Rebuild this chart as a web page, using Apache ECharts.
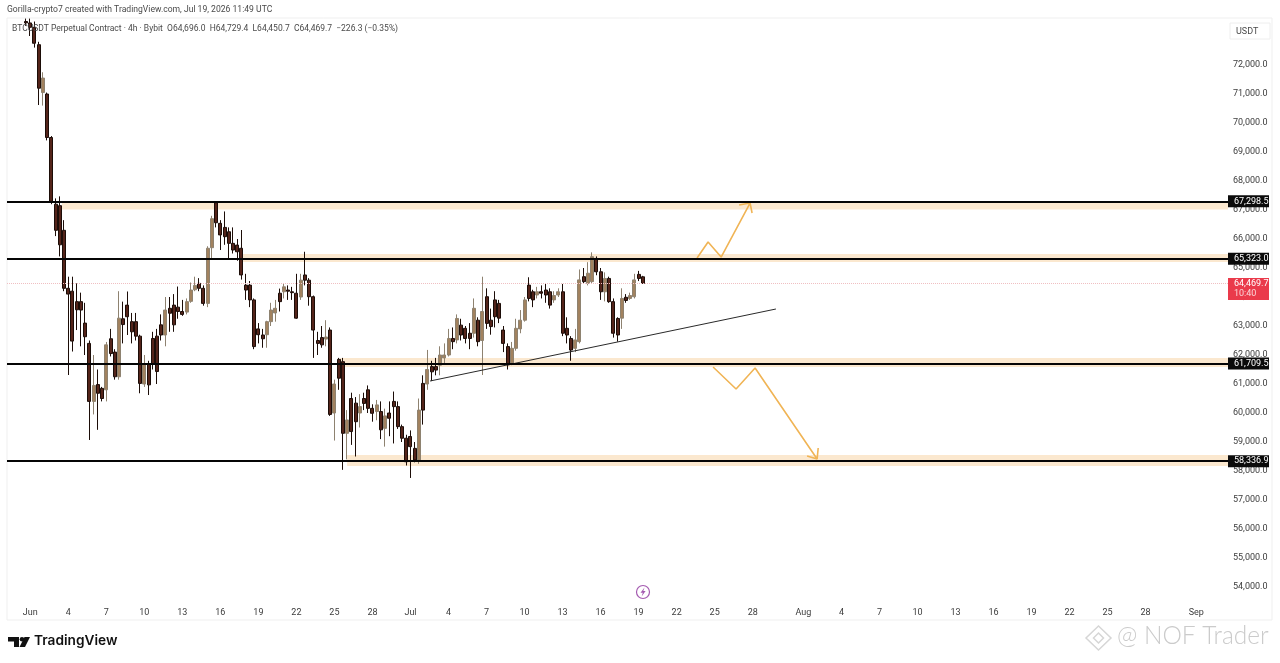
<!DOCTYPE html>
<html>
<head>
<meta charset="utf-8">
<style>html,body{margin:0;padding:0;background:#fff}#chart{width:1280px;height:663px}</style>
<script src="https://cdn.jsdelivr.net/npm/echarts@6/dist/echarts.min.js"></script>
</head>
<body>
<div id="chart"></div>
<script>
// candles, one per 8h slot
const firstCandleSlot = 4;
const opens = [73500,73450,73300,72700,71050,71000,69500,67200,67150,66300,64300,64200,63840,63840,63100,62400,60400,60980,60850,60800,62560,62100,61250,63250,63720,63150,63150,62650,61000,61700,62570,62650,63040,62690,63610,63720,63650,63500,63480,63850,64250,64470,64300,63780,65700,67250,66540,66400,66250,65850,65790,65680,64410,64410,63900,62900,62690,62700,63150,63450,64130,64180,64240,64180,64130,64000,64760,64580,64010,62500,62600,62550,62860,60000,61850,61770,59300,60500,60340,60000,60500,60800,60160,60050,60050,59470,60000,60400,60220,59530,59130,59190,58780,58380,61020,61000,61600,61600,61650,61900,62000,62570,62520,63030,62920,62750,62750,63200,62500,64010,63200,63900,63780,62860,62290,61720,62230,62900,63200,64410,64180,64070,64180,64240,64180,63900,64070,64180,62920,62570,62230,62460,64700,64470,64530,65330,64870,64180,64640,63840,63260,63270,63990,63950,64010,64780,64696];
const closes = [73450,73300,72750,71200,71550,69500,67300,66300,65800,64300,64100,62480,63560,63550,62630,60400,60950,60680,60500,62350,62050,61250,63270,63050,63320,62800,62650,61020,61680,60970,61700,61430,62690,63550,63440,63040,63500,63400,63840,64240,64400,64300,63780,65680,66700,66560,66140,66080,65850,65620,65560,64760,64240,63900,62290,62700,62560,63150,63550,63610,63840,64350,64200,64150,63270,64580,64580,64010,62860,62400,62350,62620,59950,61000,61200,59300,59760,59360,59700,60220,60330,60160,59990,60280,59420,59900,59820,60220,59530,59130,58320,58840,58380,60100,60100,61500,61420,61480,62000,62000,62570,62460,63260,62690,62570,62570,63610,62460,63500,63090,62980,63320,63270,62400,61660,62230,62920,63200,63900,63950,63900,64180,64130,64070,63720,64050,64180,62750,62690,62170,62520,64590,64530,64820,65390,64870,64180,64640,63840,62750,62690,63950,63880,64050,64590,64640,64470];
const lows = [73350,73000,72600,70620,70600,69400,67200,66100,65400,64200,61310,62120,62860,62300,62000,59070,59950,59420,60400,60400,61950,61150,61150,62400,62690,62400,62500,60680,60900,60620,61500,61000,62500,62300,62800,62800,63250,63350,63400,63800,64200,64200,63700,63650,65300,66400,65620,65800,65300,65500,65250,64600,63900,63650,62200,62400,62250,62250,63000,63150,63500,63950,63900,63900,63250,63900,64400,63700,61900,62000,62250,62300,59900,59050,60800,58040,58400,58900,58500,59500,60100,60000,59700,59750,59100,58840,59200,58950,59450,59000,58190,57760,58300,58250,59600,60800,61100,61300,61300,61700,61950,62200,62400,62500,62400,62200,62600,62300,61310,62900,62700,62950,63100,62100,61500,61650,62150,62750,63150,63850,63650,63950,63950,63800,63600,63800,64000,62650,62400,61800,62100,62400,64450,64400,64450,64750,63900,63850,63800,62600,62460,62900,63800,63900,63950,64550,64450];
const highs = [73600,73600,73500,72800,71750,71050,69550,67400,67470,66650,64700,64700,64470,64150,63800,62500,62000,61500,60900,62450,62900,62200,64200,63840,64190,63450,63450,62700,62000,61800,62800,62900,63400,64000,64000,64100,64360,63900,63950,64500,64700,64650,64400,65750,66800,67300,66650,66950,66400,66400,66000,66310,64800,64550,63950,63100,62900,63180,63800,63900,64290,64470,64400,64350,64800,64800,65560,64650,64050,62800,63000,63200,62950,61150,61900,61900,60100,60700,60550,60650,60700,60950,60300,60450,60400,60150,60400,60740,60400,59600,59250,59400,59000,60500,61300,62175,61800,61900,62300,62400,62900,62950,63400,63250,63000,63100,63950,63300,64700,64300,63600,64200,63900,63000,62400,62450,63250,63550,64000,64680,64250,64350,64400,64450,64300,64200,64300,64450,63300,62650,62900,64950,65000,65200,65540,65400,65000,64850,64700,63950,63300,64300,64100,64150,64800,64900,64729];

// time axis
const slotHours = 8;
const slotCount = 289;
const firstSlotUTC = Date.UTC(2026, 4, 30, 8);
const tickDates = ['06-01','06-04','06-07','06-10','06-13','06-16','06-19','06-22','06-25','06-28','07-01','07-04','07-07','07-10','07-13','07-16','07-19','07-22','07-25','07-28','08-01','08-04','08-07','08-10','08-13','08-16','08-19','08-22','08-25','08-28','09-01'];
const tickLabels = ['Jun','4','7','10','13','16','19','22','25','28','Jul','4','7','10','13','16','19','22','25','28','Aug','4','7','10','13','16','19','22','25','28','Sep'];

// price levels and zones
const levelPrices = [67298.5, 65323.0, 61709.5, 58336.9];
const levelTags = ['67,298.5', '65,323.0', '61,709.5', '58,336.9'];
const zoneStarts = ['2026-06-03T12:00:00Z', '2026-06-17T19:00:00Z', '2026-06-25T11:00:00Z', '2026-06-26T00:00:00Z'];
const zoneTops = [67300, 65483, 61897, 58552];
const zoneBottoms = [67020, 65207, 61586, 58172];
const lastPrice = 64469.7;
const lastPriceTagAnchor = 64280;

// drawings
const trendDates = ['2026-07-02T13:00:00Z', '2026-07-29T20:00:00Z'];
const trendPrices = [61103, 63586];
const upArrowDates = ['2026-07-23T14:40:00Z','2026-07-24T11:30:00Z','2026-07-25T12:15:00Z','2026-07-27T19:00:00Z','2026-07-26T22:20:00Z','2026-07-27T19:00:00Z','2026-07-27T22:50:00Z'];
const upArrowPrices = [65345, 65897, 65379, 67241, 67172, 67241, 66897];
const downArrowDates = ['2026-07-24T21:00:00Z','2026-07-26T16:30:00Z','2026-07-28T04:30:00Z','2026-08-02T02:00:00Z','2026-08-01T07:00:00Z','2026-08-02T02:00:00Z','2026-08-02T04:00:00Z'];
const downArrowPrices = [61586, 60828, 61552, 58414, 58517, 58414, 58793];

const pad = n => String(n).padStart(2, '0');
const categories = [];
for (let i = 0; i < slotCount; i++) {
  const d = new Date(firstSlotUTC + i * slotHours * 3600e3);
  categories.push(pad(d.getUTCMonth() + 1) + '-' + pad(d.getUTCDate()) + ' ' + pad(d.getUTCHours()));
}
const tickMap = {};
tickDates.forEach((d, i) => { tickMap[d + ' 00'] = tickLabels[i]; });
const candleRows = opens.map((o, i) => [categories[firstCandleSlot + i], o, closes[i], lows[i], highs[i]]);
const timeMin = firstSlotUTC - slotHours / 2 * 3600e3;
const timeMax = timeMin + slotCount * slotHours * 3600e3;
const pairs = (a, b) => a.map((x, i) => [x, b[i]]);

const FONT = 'Roboto, "Noto Sans", sans-serif';
const tagLabel = t => ({
  show: true, position: 'end', distance: 0, formatter: t, color: '#fff', backgroundColor: '#0b0b0b',
  fontFamily: FONT, fontSize: 9, lineHeight: 10, padding: [1, 3, 1, 6], width: 32
});
const arrowStyle = { color: '#f0b455', width: 1.6 };
const drawing = (name, dates, prices, color, width, extra) => Object.assign({
  type: 'line', name, xAxisIndex: 1, yAxisIndex: 0, showSymbol: false, symbol: 'none', silent: true, z: 4,
  data: pairs(dates, prices), lineStyle: { color, width }, animation: false
}, extra || {});

const chart = echarts.init(document.getElementById('chart'), null, { renderer: 'canvas' });
chart.setOption({
  animation: false,
  useUTC: true,
  backgroundColor: '#ffffff',
  title: [
    { text: 'Gorilla-crypto7 created with TradingView.com, Jul 19, 2026 11:49 UTC', left: 7, top: 5, padding: 0,
      textStyle: { fontFamily: FONT, fontSize: 8.6, fontWeight: 'normal', color: '#4a4a4a' } },
    { text: 'BTCUSDT Perpetual Contract · 4h · Bybit  O64,696.0  H64,729.4  L64,450.7  C64,469.7  −226.3 (−0.35%)', left: 12, top: 24, padding: 0,
      textStyle: { fontFamily: FONT, fontSize: 8.5, fontWeight: 'normal', color: '#4a4a4a' } }
  ],
  grid: { left: 7, top: 7, width: 1221, height: 609, show: false },
  xAxis: [
    { type: 'category', data: categories, boundaryGap: true, axisLine: { show: false }, axisTick: { show: false }, splitLine: { show: false },
      axisLabel: { interval: (idx, v) => v in tickMap, formatter: v => tickMap[v] || '', margin: -8, fontFamily: FONT, fontSize: 9, color: '#3c3c3c', hideOverlap: false } },
    { type: 'time', show: false, min: timeMin, max: timeMax, axisLine: { show: false }, axisTick: { show: false }, axisLabel: { show: false }, splitLine: { show: false } }
  ],
  yAxis: [{
    type: 'value', position: 'right', min: 53000, max: 74000, interval: 1000, scale: true,
    axisLine: { show: false }, axisTick: { show: false }, splitLine: { show: false },
    axisLabel: { margin: 5, padding: [2, 0, 0, 0], fontFamily: FONT, fontSize: 9, color: '#3c3c3c',
      formatter: v => (v < 54000 || v > 72000) ? '' : v.toLocaleString('en-US') + '.0' }
  }],
  series: [
    {
      type: 'candlestick', name: 'BTCUSDT', xAxisIndex: 0, yAxisIndex: 0, barWidth: 3.5, z: 2, silent: true,
      encode: { x: 0, y: [1, 2, 3, 4] },
      data: candleRows,
      itemStyle: { color: '#a2825f', color0: '#54241a', borderColor: '#8e8270', borderColor0: '#1c0d08', borderWidth: 1 },
      markLine: {
        silent: true, symbol: 'none', animation: false, z: 6,
        lineStyle: { color: '#050505', width: 1.8, type: 'solid' },
        data: levelPrices.map((p, i) => ({ yAxis: p, label: tagLabel(levelTags[i]) })).concat([
          { yAxis: lastPrice, lineStyle: { color: '#f0bfc2', width: 1, type: 'dotted' }, label: { show: false } },
          { yAxis: lastPriceTagAnchor, lineStyle: { color: 'rgba(255,255,255,0)', width: 0 }, label: {
              show: true, position: 'end', distance: 0, backgroundColor: '#ea3a4b', padding: [1, 3, 1, 6], width: 32,
              formatter: '{a|64,469.7}\n{b|10:40}',
              rich: { a: { color: '#fff', fontFamily: FONT, fontSize: 9, lineHeight: 10 }, b: { color: '#fbd5d8', fontFamily: FONT, fontSize: 9, lineHeight: 10 } }
          } }
        ])
      }
    },
    drawing('Trend', trendDates, trendPrices, '#2a2a2a', 1, {
      markArea: {
        silent: true, animation: false, itemStyle: { color: '#fbe8cf' },
        data: zoneStarts.map((s, i) => [{ xAxis: s, yAxis: zoneTops[i] }, { xAxis: timeMax, yAxis: zoneBottoms[i] }])
      }
    }),
    drawing('Up path', upArrowDates, upArrowPrices, arrowStyle.color, arrowStyle.width),
    drawing('Down path', downArrowDates, downArrowPrices, arrowStyle.color, arrowStyle.width)
  ],
  graphic: [
    // pane frame
    { type: 'polyline', silent: true, shape: { points: [[7, 18], [1272, 18], [1272, 620], [7, 620], [7, 18]] }, style: { stroke: '#efefef', lineWidth: 1, fill: null } },
    // currency box
    { type: 'rect', silent: true, shape: { x: 1230, y: 23, width: 40, height: 16 }, style: { stroke: '#eeeeee', fill: '#fff', lineWidth: 1 } },
    { type: 'text', silent: true, x: 1236, y: 27, style: { text: 'USDT', font: '9px ' + FONT, fill: '#4a4a4a' } },
    // event icon
    { type: 'circle', silent: true, shape: { cx: 643, cy: 592, r: 6.5 }, style: { stroke: '#a45ab0', lineWidth: 1.2, fill: '#fff' } },
    { type: 'polygon', silent: true, shape: { points: [[644.5, 587.5], [640.5, 592.8], [642.8, 592.8], [641.6, 596.5], [645.6, 591], [643.3, 591]] }, style: { fill: '#a45ab0' } },
    // TradingView logo
    { type: 'polygon', silent: true, shape: { points: [[8, 637], [19, 637], [19, 647], [14, 647], [14, 641.5], [8, 641.5]] }, style: { fill: '#111' } },
    { type: 'circle', silent: true, shape: { cx: 22, cy: 639.3, r: 2.3 }, style: { fill: '#111' } },
    { type: 'polygon', silent: true, shape: { points: [[24.5, 637], [30, 637], [25, 647], [19.5, 647]] }, style: { fill: '#111' } },
    { type: 'text', silent: true, x: 34, y: 634, style: { text: 'TradingView', font: '600 13.7px Inter, Roboto, sans-serif', fill: '#111' } },
    // watermark
    { type: 'polygon', silent: true, shape: { points: [[1098.5, 626], [1111, 638], [1098.5, 650], [1086, 638]] }, style: { stroke: '#d6d6d6', lineWidth: 1.5, fill: null } },
    { type: 'polygon', silent: true, shape: { points: [[1098.5, 633], [1103.5, 638], [1098.5, 643], [1093.5, 638]] }, style: { stroke: '#d6d6d6', lineWidth: 1.5, fill: null } },
    { type: 'text', silent: true, x: 1117, y: 624, style: { text: '@ NOF Trader', font: '300 24.5px Lato, Roboto, sans-serif', fill: '#cbcbcb' } }
  ]
});
</script>
</body>
</html>
